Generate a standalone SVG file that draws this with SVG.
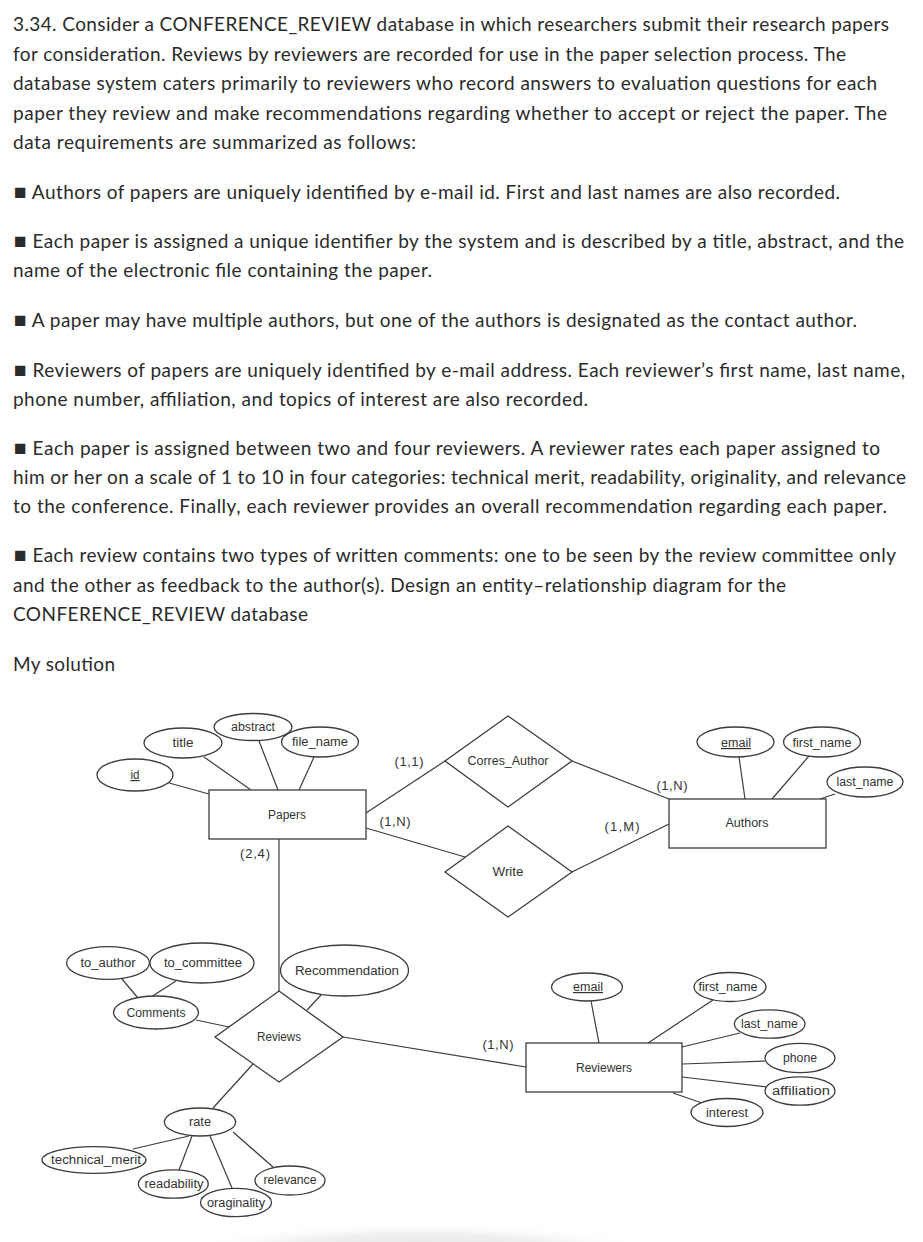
<svg xmlns="http://www.w3.org/2000/svg" width="923" height="1242" viewBox="0 0 923 1242">
<defs>
<radialGradient id="shadow" cx="0.5" cy="0.5" r="0.5">
<stop offset="0" stop-color="#e6e6e6"/>
<stop offset="0.6" stop-color="#efefef"/>
<stop offset="1" stop-color="#ffffff" stop-opacity="0"/>
</radialGradient>
<style>
.p{font-family:Lato,"Open Sans","Liberation Sans",sans-serif;font-size:19px;fill:#2b2b2b}
.b{font-size:21px}
.shape{fill:#fff;stroke:#3c3c3c;stroke-width:1.3}
.conn line{stroke:#3c3c3c;stroke-width:1.2}
.lbl{font-family:"Liberation Sans",Arial,sans-serif;font-size:12px;fill:#333;text-anchor:middle}
.card{font-family:"Liberation Sans",Arial,sans-serif;font-size:13px;fill:#333;text-anchor:middle}
.key{text-decoration:underline}
</style>
</defs>
<rect width="923" height="1242" fill="#fff"/>
<ellipse cx="420" cy="1252" rx="240" ry="30" fill="url(#shadow)"/>

<g id="question">
<text class="p" x="13" y="31" textLength="876">3.34. Consider a CONFERENCE_REVIEW database in which researchers submit their research papers</text>
<text class="p" x="13" y="61" textLength="833">for consideration. Reviews by reviewers are recorded for use in the paper selection process. The</text>
<text class="p" x="13" y="90" textLength="864">database system caters primarily to reviewers who record answers to evaluation questions for each</text>
<text class="p" x="13" y="120" textLength="874">paper they review and make recommendations regarding whether to accept or reject the paper. The</text>
<text class="p" x="13" y="149" textLength="403">data requirements are summarized as follows:</text>
<text class="p" x="14" y="199" textLength="826"><tspan class="b">■</tspan> Authors of papers are uniquely identified by e-mail id. First and last names are also recorded.</text>
<text class="p" x="14" y="248" textLength="890"><tspan class="b">■</tspan> Each paper is assigned a unique identifier by the system and is described by a title, abstract, and the</text>
<text class="p" x="13" y="277" textLength="419">name of the electronic file containing the paper.</text>
<text class="p" x="14" y="327" textLength="843"><tspan class="b">■</tspan> A paper may have multiple authors, but one of the authors is designated as the contact author.</text>
<text class="p" x="14" y="377" textLength="891"><tspan class="b">■</tspan> Reviewers of papers are uniquely identified by e-mail address. Each reviewer’s first name, last name,</text>
<text class="p" x="13" y="406" textLength="575">phone number, affiliation, and topics of interest are also recorded.</text>
<text class="p" x="14" y="455" textLength="866"><tspan class="b">■</tspan> Each paper is assigned between two and four reviewers. A reviewer rates each paper assigned to</text>
<text class="p" x="13" y="484" textLength="893">him or her on a scale of 1 to 10 in four categories: technical merit, readability, originality, and relevance</text>
<text class="p" x="13" y="513" textLength="874">to the conference. Finally, each reviewer provides an overall recommendation regarding each paper.</text>
<text class="p" x="14" y="562" textLength="882"><tspan class="b">■</tspan> Each review contains two types of written comments: one to be seen by the review committee only</text>
<text class="p" x="13" y="592" textLength="773">and the other as feedback to the author(s). Design an entity–relationship diagram for the</text>
<text class="p" x="13" y="621" textLength="295">CONFERENCE_REVIEW database</text>
<text class="p" x="13" y="671" textLength="102">My solution</text>
</g>

<g id="connectors" class="conn">
<line x1="169" y1="783" x2="209" y2="794"/>
<line x1="204" y1="757" x2="251" y2="790"/>
<line x1="259" y1="741" x2="278" y2="790"/>
<line x1="314" y1="757" x2="299" y2="790"/>
<line x1="366" y1="813" x2="445" y2="761"/>
<line x1="572" y1="761" x2="669" y2="799"/>
<line x1="366" y1="828" x2="465" y2="857"/>
<line x1="572" y1="872" x2="669" y2="824"/>
<line x1="739" y1="757" x2="745" y2="799"/>
<line x1="809" y1="756" x2="772" y2="799"/>
<line x1="835" y1="794" x2="820" y2="799"/>
<line x1="279" y1="839" x2="279" y2="991"/>
<line x1="321" y1="995" x2="307" y2="1010"/>
<line x1="122" y1="979" x2="138" y2="998"/>
<line x1="176" y1="981" x2="151" y2="997"/>
<line x1="196" y1="1020" x2="229" y2="1027"/>
<line x1="343" y1="1037" x2="526" y2="1067"/>
<line x1="591" y1="1001" x2="599" y2="1043"/>
<line x1="713" y1="1000" x2="648" y2="1043"/>
<line x1="740" y1="1033" x2="682" y2="1047"/>
<line x1="765" y1="1061" x2="682" y2="1064"/>
<line x1="767" y1="1087" x2="682" y2="1077"/>
<line x1="702" y1="1103" x2="673" y2="1093"/>
<line x1="253" y1="1064" x2="213" y2="1108"/>
<line x1="189" y1="1136" x2="133" y2="1149"/>
<line x1="192" y1="1136" x2="179" y2="1170"/>
<line x1="210" y1="1136" x2="232" y2="1188"/>
<line x1="233" y1="1132" x2="273" y2="1167"/>
</g>

<g id="cardinalities">
<text class="card" x="409" y="766" textLength="29">(1,1)</text>
<text class="card" x="395" y="826" textLength="31">(1,N)</text>
<text class="card" x="255" y="858" textLength="30">(2,4)</text>
<text class="card" x="622" y="831" textLength="35">(1,M)</text>
<text class="card" x="672" y="790" textLength="31">(1,N)</text>
<text class="card" x="498" y="1049" textLength="31">(1,N)</text>
</g>

<g id="papers">
<rect class="shape" x="209" y="790" width="157" height="49"/>
<text class="lbl" x="287" y="819" textLength="38" lengthAdjust="spacingAndGlyphs">Papers</text>
</g>
<g id="paper-id">
<ellipse class="shape" cx="135" cy="775" rx="38" ry="16"/>
<text class="lbl key" x="135" y="779" textLength="9" lengthAdjust="spacingAndGlyphs">id</text>
</g>
<g id="paper-title">
<ellipse class="shape" cx="183" cy="743" rx="39" ry="15"/>
<text class="lbl" x="183" y="747" textLength="21" lengthAdjust="spacingAndGlyphs">title</text>
</g>
<g id="paper-abstract">
<ellipse class="shape" cx="253" cy="727" rx="39" ry="13.5"/>
<text class="lbl" x="253" y="731" textLength="44" lengthAdjust="spacingAndGlyphs">abstract</text>
</g>
<g id="paper-file_name">
<ellipse class="shape" cx="320" cy="742" rx="38.5" ry="15"/>
<text class="lbl" x="320" y="746" textLength="56" lengthAdjust="spacingAndGlyphs">file_name</text>
</g>

<g id="corres_author">
<polygon class="shape" points="508,716 572,761 508,807 445,761"/>
<text class="lbl" x="508" y="765" textLength="81" lengthAdjust="spacingAndGlyphs">Corres_Author</text>
</g>
<g id="write">
<polygon class="shape" points="508,826 572,872 508,917 445,872"/>
<text class="lbl" x="508" y="876" textLength="31" lengthAdjust="spacingAndGlyphs">Write</text>
</g>

<g id="authors">
<rect class="shape" x="669" y="799" width="157" height="49"/>
<text class="lbl" x="747" y="827" textLength="43" lengthAdjust="spacingAndGlyphs">Authors</text>
</g>
<g id="author-email">
<ellipse class="shape" cx="735.5" cy="742" rx="38.5" ry="15"/>
<text class="lbl key" x="736" y="747" textLength="30" lengthAdjust="spacingAndGlyphs">email</text>
</g>
<g id="author-first_name">
<ellipse class="shape" cx="822" cy="742" rx="38.5" ry="15"/>
<text class="lbl" x="822" y="747" textLength="59" lengthAdjust="spacingAndGlyphs">first_name</text>
</g>
<g id="author-last_name">
<ellipse class="shape" cx="865" cy="782" rx="38" ry="15"/>
<text class="lbl" x="865" y="786" textLength="57" lengthAdjust="spacingAndGlyphs">last_name</text>
</g>

<g id="reviews">
<polygon class="shape" points="279,991 343,1037 279,1082 215,1037"/>
<text class="lbl" x="279" y="1041" textLength="44" lengthAdjust="spacingAndGlyphs">Reviews</text>
</g>
<g id="recommendation">
<ellipse class="shape" cx="344.5" cy="970.5" rx="64" ry="25.5"/>
<text class="lbl" x="347" y="975" textLength="104" lengthAdjust="spacingAndGlyphs">Recommendation</text>
</g>
<g id="comments">
<ellipse class="shape" cx="156" cy="1012.5" rx="42.5" ry="16.5"/>
<text class="lbl" x="156" y="1017" textLength="59" lengthAdjust="spacingAndGlyphs">Comments</text>
</g>
<g id="to_author">
<ellipse class="shape" cx="108" cy="963" rx="41.5" ry="16.3"/>
<text class="lbl" x="108" y="967" textLength="55" lengthAdjust="spacingAndGlyphs">to_author</text>
</g>
<g id="to_committee">
<ellipse class="shape" cx="202" cy="963" rx="52" ry="20"/>
<text class="lbl" x="203" y="967" textLength="78" lengthAdjust="spacingAndGlyphs">to_committee</text>
</g>

<g id="rate">
<ellipse class="shape" cx="200" cy="1122" rx="35.7" ry="14"/>
<text class="lbl" x="200" y="1126" textLength="22" lengthAdjust="spacingAndGlyphs">rate</text>
</g>
<g id="technical_merit">
<ellipse class="shape" cx="94" cy="1160" rx="52" ry="13.3"/>
<text class="lbl" x="96" y="1164" textLength="90" lengthAdjust="spacingAndGlyphs">technical_merit</text>
</g>
<g id="readability">
<ellipse class="shape" cx="173.3" cy="1184" rx="35" ry="14.2"/>
<text class="lbl" x="174" y="1188" textLength="59" lengthAdjust="spacingAndGlyphs">readability</text>
</g>
<g id="oraginality">
<ellipse class="shape" cx="236" cy="1202.5" rx="35.5" ry="14.2"/>
<text class="lbl" x="236" y="1207" textLength="58" lengthAdjust="spacingAndGlyphs">oraginality</text>
</g>
<g id="relevance">
<ellipse class="shape" cx="290" cy="1180.5" rx="35" ry="14.5"/>
<text class="lbl" x="290" y="1184" textLength="53" lengthAdjust="spacingAndGlyphs">relevance</text>
</g>

<g id="reviewers">
<rect class="shape" x="526" y="1043" width="156" height="49"/>
<text class="lbl" x="604" y="1072" textLength="56" lengthAdjust="spacingAndGlyphs">Reviewers</text>
</g>
<g id="reviewer-email">
<ellipse class="shape" cx="587" cy="987" rx="35.5" ry="14"/>
<text class="lbl key" x="588" y="991" textLength="30" lengthAdjust="spacingAndGlyphs">email</text>
</g>
<g id="reviewer-first_name">
<ellipse class="shape" cx="730" cy="987" rx="36" ry="14.5"/>
<text class="lbl" x="728" y="991" textLength="59" lengthAdjust="spacingAndGlyphs">first_name</text>
</g>
<g id="reviewer-last_name">
<ellipse class="shape" cx="769.7" cy="1024" rx="35.3" ry="14.2"/>
<text class="lbl" x="769.5" y="1028" textLength="57" lengthAdjust="spacingAndGlyphs">last_name</text>
</g>
<g id="reviewer-phone">
<ellipse class="shape" cx="800" cy="1058" rx="35" ry="14.7"/>
<text class="lbl" x="800" y="1062" textLength="34" lengthAdjust="spacingAndGlyphs">phone</text>
</g>
<g id="reviewer-affiliation">
<ellipse class="shape" cx="800" cy="1091" rx="35" ry="14.2"/>
<text class="lbl" x="801" y="1095" textLength="58" lengthAdjust="spacingAndGlyphs">affiliation</text>
</g>
<g id="reviewer-interest">
<ellipse class="shape" cx="727" cy="1112.5" rx="36" ry="14"/>
<text class="lbl" x="727" y="1117" textLength="42" lengthAdjust="spacingAndGlyphs">interest</text>
</g>
</svg>
